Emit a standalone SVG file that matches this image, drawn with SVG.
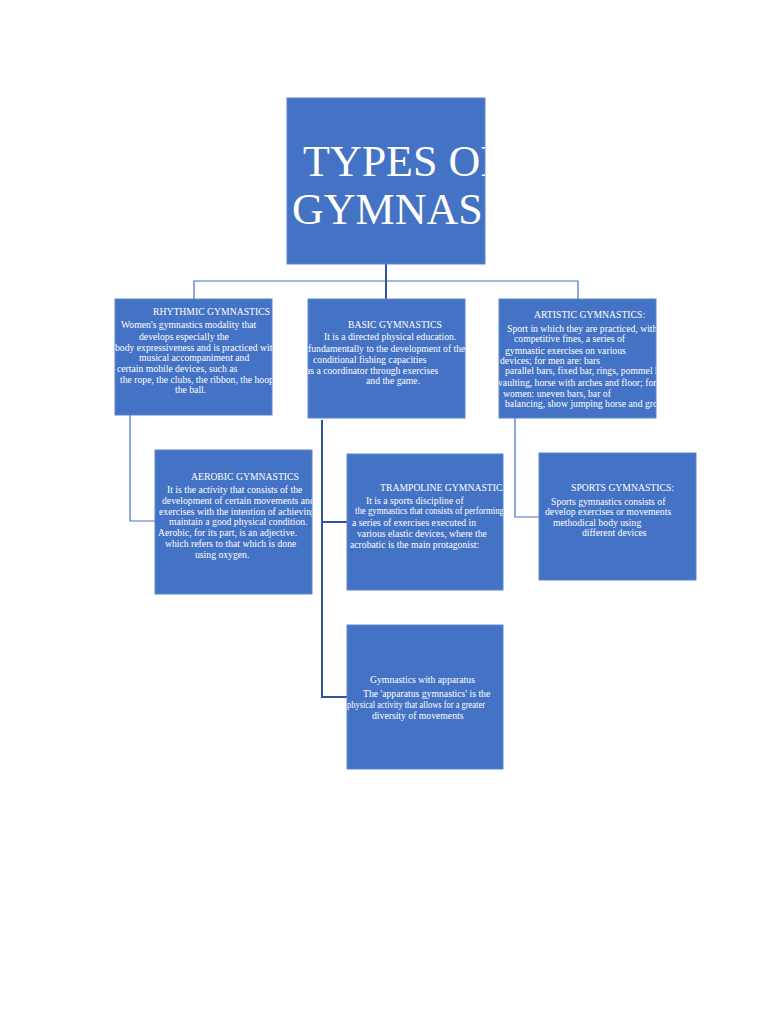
<svg xmlns="http://www.w3.org/2000/svg" width="768" height="1024" viewBox="0 0 768 1024">
<style>
.box{fill:#4472C4;stroke:#5B86D1;stroke-width:1}
.t{font-family:"Liberation Serif",serif;font-size:9.7px;fill:#FFFFFF}
.h{font-family:"Liberation Serif",serif;font-size:44px;fill:#FFFFFF}
.c1{fill:none;stroke:#4472C4;stroke-width:1.2}
.c2{fill:none;stroke:#2F5597;stroke-width:2}
</style>
<defs>
<clipPath id="cp0"><rect x="287" y="98" width="198" height="92"/></clipPath>
<clipPath id="cp0b"><rect x="287" y="190" width="196" height="74"/></clipPath>
<clipPath id="cp1"><rect x="115" y="299" width="157" height="116"/></clipPath>
<clipPath id="cp2"><rect x="308" y="299" width="157" height="119"/></clipPath>
<clipPath id="cp3"><rect x="499" y="299" width="157" height="119"/></clipPath>
<clipPath id="cp4"><rect x="155" y="450" width="157" height="144"/></clipPath>
<clipPath id="cp5"><rect x="347" y="454" width="156" height="136"/></clipPath>
<clipPath id="cp6"><rect x="539" y="453" width="157" height="127"/></clipPath>
<clipPath id="cp7"><rect x="347" y="625" width="156" height="144"/></clipPath>
</defs>
<g id="connectors">
<path class="c1" d="M194,299 V281 H578 V299"/>
<path class="c2" d="M386,264 V299"/>
<path class="c1" d="M130,415 V521 H155"/>
<path class="c2" d="M322,420 V697 H347 M322,522 H347"/>
<path class="c1" d="M515,418 V517 H539"/>
</g>
<g id="title">
<rect class="box" x="287" y="98" width="198" height="166"/>
<text class="h" x="303" y="176" clip-path="url(#cp0)">TYPES OF</text>
<text class="h" x="292" y="224" clip-path="url(#cp0b)">GYMNASTICS</text>
</g>
<g id="rhythmic">
<rect class="box" x="115" y="299" width="157" height="116"/>
<g clip-path="url(#cp1)">
<text class="t" x="153" y="315">RHYTHMIC GYMNASTICS</text>
<text class="t" x="121" y="328">Women's gymnastics modality that</text>
<text class="t" x="139" y="340">develops especially the</text>
<text class="t" x="115" y="351">body expressiveness and is practiced with</text>
<text class="t" x="139" y="361">musical accompaniment and</text>
<text class="t" x="117" y="372">certain mobile devices, such as</text>
<text class="t" x="120" y="383">the rope, the clubs, the ribbon, the hoop or</text>
<text class="t" x="175" y="393">the ball.</text>
</g>
</g>
<g id="basic">
<rect class="box" x="308" y="299" width="157" height="119"/>
<g clip-path="url(#cp2)">
<text class="t" x="348" y="328">BASIC GYMNASTICS</text>
<text class="t" x="324" y="340">It is a directed physical education.</text>
<text class="t" x="308" y="352">fundamentally to the development of the</text>
<text class="t" x="313" y="363">conditional fishing capacities</text>
<text class="t" x="306" y="374">as a coordinator through exercises</text>
<text class="t" x="366" y="384">and the game.</text>
</g>
</g>
<g id="artistic">
<rect class="box" x="499" y="299" width="157" height="119"/>
<g clip-path="url(#cp3)">
<text class="t" x="534" y="318">ARTISTIC GYMNASTICS:</text>
<text class="t" x="507" y="332">Sport in which they are practiced, with</text>
<text class="t" x="514" y="342">competitive fines, a series of</text>
<text class="t" x="505" y="354">gymnastic exercises on various</text>
<text class="t" x="500" y="364">devices; for men are: bars</text>
<text class="t" x="505" y="374">parallel bars, fixed bar, rings, pommel horse</text>
<text class="t" x="498" y="386">vaulting, horse with arches and floor; for</text>
<text class="t" x="503" y="397">women: uneven bars, bar of</text>
<text class="t" x="505" y="407">balancing, show jumping horse and ground</text>
</g>
</g>
<g id="aerobic">
<rect class="box" x="155" y="450" width="157" height="144"/>
<g clip-path="url(#cp4)">
<text class="t" x="191" y="480">AEROBIC GYMNASTICS</text>
<text class="t" x="167" y="493">It is the activity that consists of the</text>
<text class="t" x="162" y="504">development of certain movements and</text>
<text class="t" x="159" y="515">exercises with the intention of achieving</text>
<text class="t" x="169" y="525">maintain a good physical condition.</text>
<text class="t" x="158" y="536">Aerobic, for its part, is an adjective.</text>
<text class="t" x="165" y="547">which refers to that which is done</text>
<text class="t" x="195" y="558">using oxygen.</text>
</g>
</g>
<g id="trampoline">
<rect class="box" x="347" y="454" width="156" height="136"/>
<g clip-path="url(#cp5)">
<text class="t" x="380" y="491">TRAMPOLINE GYMNASTICS</text>
<text class="t" x="366" y="504">It is a sports discipline of</text>
<text class="t" x="355" y="514" textLength="149" lengthAdjust="spacingAndGlyphs">the gymnastics that consists of performing</text>
<text class="t" x="352" y="526">a series of exercises executed in</text>
<text class="t" x="357" y="537">various elastic devices, where the</text>
<text class="t" x="350" y="548">acrobatic is the main protagonist:</text>
</g>
</g>
<g id="sports">
<rect class="box" x="539" y="453" width="157" height="127"/>
<g clip-path="url(#cp6)">
<text class="t" x="571" y="491">SPORTS GYMNASTICS:</text>
<text class="t" x="551" y="505">Sports gymnastics consists of</text>
<text class="t" x="545" y="515">develop exercises or movements</text>
<text class="t" x="553" y="526">methodical body using</text>
<text class="t" x="582" y="536">different devices</text>
</g>
</g>
<g id="apparatus">
<rect class="box" x="347" y="625" width="156" height="144"/>
<g clip-path="url(#cp7)">
<text class="t" x="370" y="683">Gymnastics with apparatus</text>
<text class="t" x="363" y="697">The 'apparatus gymnastics' is the</text>
<text class="t" x="347" y="708" textLength="138" lengthAdjust="spacingAndGlyphs">physical activity that allows for a greater</text>
<text class="t" x="372" y="719">diversity of movements</text>
</g>
</g>
</svg>
